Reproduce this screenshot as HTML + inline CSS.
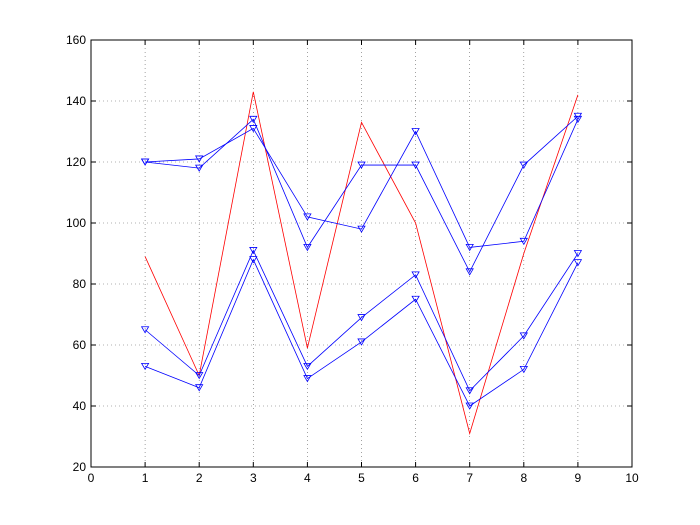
<!DOCTYPE html>
<html><head><meta charset="utf-8"><style>body{margin:0;background:#fff}svg{display:block}</style></head><body>
<svg width="700" height="525" xmlns="http://www.w3.org/2000/svg" font-family="Liberation Sans, sans-serif" font-size="12">
<rect width="700" height="525" fill="#fff"/>
<g id="plot"></g>
</svg>
<script>
const s=document.querySelector('svg'),g=document.getElementById('plot');
const L=91,R=632,T=40,B=467;
const X=v=>L+(R-L)*v/10, Y=v=>B-(B-T)*(v-20)/140;
let h='';
for(let i=1;i<10;i++)h+=`<line x1="${X(i)}" y1="${T}" x2="${X(i)}" y2="${B}" stroke="#000" stroke-width="0.6" stroke-dasharray="1,3" opacity="0.6"/>`;
for(let v=40;v<160;v+=20)h+=`<line x1="${L}" y1="${Y(v)}" x2="${R}" y2="${Y(v)}" stroke="#000" stroke-width="0.6" stroke-dasharray="1,3" opacity="0.6"/>`;
h+=`<rect x="${L}" y="${T}" width="${R-L}" height="${B-T}" fill="none" stroke="#000" stroke-width="1"/>`;
for(let i=0;i<=10;i++){h+=`<line x1="${X(i)}" y1="${B}" x2="${X(i)}" y2="${B-5}" stroke="#000"/><line x1="${X(i)}" y1="${T}" x2="${X(i)}" y2="${T+5}" stroke="#000"/><text x="${X(i)}" y="${B+15}" text-anchor="middle">${i}</text>`;}
for(let v=20;v<=160;v+=20){h+=`<line x1="${L}" y1="${Y(v)}" x2="${L+5}" y2="${Y(v)}" stroke="#000"/><line x1="${R}" y1="${Y(v)}" x2="${R-5}" y2="${Y(v)}" stroke="#000"/><text x="${L-5}" y="${Y(v)+4}" text-anchor="end">${v}</text>`;}
const red=[89,50,143,59,133,100,31,90,142];
const blues=[[120,121,131,102,98,130,92,94,134],[120,118,134,92,119,119,84,119,135],[65,50,91,53,69,83,45,63,90],[53,46,88,49,61,75,40,52,87]];
const pts=a=>a.map((v,i)=>X(i+1)+','+Y(v)).join(' ');
h+=`<polyline points="${pts(red)}" fill="none" stroke="#f00" stroke-width="0.8"/>`;
for(const b of blues){h+=`<polyline points="${pts(b)}" fill="none" stroke="#00f" stroke-width="0.8"/>`;
b.forEach((v,i)=>{const x=X(i+1),y=Y(v);h+=`<polygon points="${x-3.5},${y-3} ${x+3.5},${y-3} ${x},${y+3}" fill="none" stroke="#00f" stroke-width="0.8"/>`;});}
g.innerHTML=h;
</script>
</body></html>
